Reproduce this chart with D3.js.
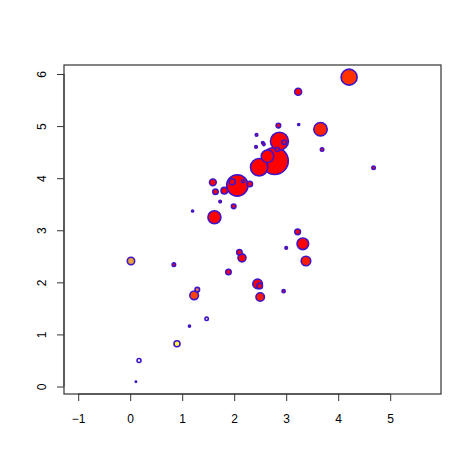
<!DOCTYPE html>
<html lang="en">
<head>
  <meta charset="UTF-8">
  <title>Circle symbols plot</title>
  <style>
    body { margin: 0; background: #fff; }
    svg text { font-family: "Liberation Sans", Arial, sans-serif; font-size: 12px; fill: #000; }
  </style>
</head>
<body>
  <svg id="chart" width="474" height="474"></svg>
  <script src="https://d3js.org/d3.v7.min.js"></script>
  <script>
    // point positions, circle radius (in x units) and fill colour
    const xValues = [4.21, 3.23, 2.85, 3.24, 2.43, 3.66, 2.87, 2.96, 2.42, 2.55, 2.57, 2.83,
      3.69, 2.78, 2.64, 2.48, 4.68, 2.06, 1.96, 2.17, 2.30, 1.59, 1.64, 1.81, 1.73, 1.99,
      1.62, 1.20, 3.22, 3.32, 3.00, 3.38, 2.10, 2.15, 1.89, 2.45, 2.49, 2.50, 2.95, 0.015,
      0.84, 1.23, 1.29, 1.47, 1.14, 0.90, 0.17, 0.11];
    const yValues = [5.94, 5.66, 5.01, 5.03, 4.83, 4.94, 4.71, 4.69, 4.60, 4.68, 4.65, 4.55,
      4.55, 4.33, 4.42, 4.21, 4.20, 3.86, 3.93, 3.94, 3.89, 3.92, 3.74, 3.76, 3.55, 3.46,
      3.25, 3.37, 2.97, 2.74, 2.66, 2.41, 2.58, 2.47, 2.20, 1.97, 1.93, 1.72, 1.83, 2.41,
      2.34, 1.75, 1.86, 1.30, 1.16, 0.82, 0.50, 0.09];
    const sizes = [0.154, 0.067, 0.044, 0.020, 0.025, 0.129, 0.173, 0.044, 0.025, 0.025, 0.025, 0.038,
      0.033, 0.260, 0.120, 0.167, 0.033, 0.205, 0.058, 0.029, 0.052, 0.065, 0.052, 0.063, 0.025, 0.044,
      0.125, 0.020, 0.054, 0.112, 0.025, 0.092, 0.052, 0.077, 0.052, 0.092, 0.054, 0.081, 0.031, 0.071,
      0.033, 0.083, 0.044, 0.033, 0.020, 0.058, 0.038, 0.013];
    const fills = ["#ff3300", "#ff0000", "#ff0000", "#ff0000", "#ff0000", "#ff2200", "#ff0000", "#ff0000",
      "#ff0000", "#ff0000", "#ff0000", "#ff0000", "#ff0000", "#ff0000", "#ff0000", "#ff0000", "#ff0000",
      "#ff0000", "#ff0000", "#ff0000", "#ff0000", "#ff0000", "#ff0000", "#ff0000", "#ff0000", "#ff0000",
      "#ff0000", "#ff0000", "#ff0000", "#ff0000", "#ff0000", "#ff1a00", "#ff0000", "#ff0000", "#ff0000",
      "#ff0000", "#ff0000", "#ff1a00", "#ff0000", "#e8a23a", "#ff0000", "#ff4400", "#ee7755", "#f4f4ff",
      "#ff0000", "#ffff40", "#ffffff", "#ff0000"];
    const xTicks = [-1, 0, 1, 2, 3, 4, 5];
    const yTicks = [0, 1, 2, 3, 4, 5, 6];

    const svg = d3.select("#chart");
    const margin = { top: 65, right: 33, bottom: 80, left: 64 };
    const W = 474, H = 474;

    const x = d3.scaleLinear().domain([-1.273, 5.977]).range([margin.left, W - margin.right]);
    const y = d3.scaleLinear().domain([-0.144, 6.173]).range([H - margin.bottom, margin.top]);

    const points = xValues.map((v, i) => ({ x: v, y: yValues[i], s: sizes[i], fill: fills[i] }))
      .sort((a, b) => b.s - a.s);

    svg.append("g").selectAll("circle")
      .data(points)
      .enter().append("circle")
      .attr("cx", d => x(d.x))
      .attr("cy", d => y(d.y))
      .attr("r", d => x(d.s) - x(0))
      .attr("fill", d => d.fill)
      .attr("stroke", "#4014c8")
      .attr("stroke-width", 1.6);

    // plot box
    svg.append("rect")
      .attr("x", margin.left)
      .attr("y", margin.top)
      .attr("width", W - margin.left - margin.right)
      .attr("height", H - margin.top - margin.bottom)
      .attr("fill", "none")
      .attr("stroke", "#333")
      .attr("stroke-width", 1.2);

    // axes, R style: line from first to last tick, labels below
    const xAxis = svg.append("g")
      .attr("transform", `translate(0,${H - margin.bottom})`)
      .call(d3.axisBottom(x).tickValues(xTicks).tickSize(7).tickPadding(13).tickFormat(d3.format("d")));
    xAxis.select(".domain")
      .attr("d", `M${x(-1)},0H${x(5)}`);

    const yAxis = svg.append("g")
      .attr("transform", `translate(${margin.left},0)`)
      .call(d3.axisLeft(y).tickValues(yTicks).tickSize(7).tickPadding(10).tickFormat(d3.format("d")));
    yAxis.select(".domain")
      .attr("d", `M0,${y(0)}V${y(6)}`);
    yAxis.selectAll(".tick text")
      .attr("x", 0).attr("dy", 0)
      .attr("transform", "translate(-22,0) rotate(-90)")
      .style("text-anchor", "middle")
      .attr("dominant-baseline", "central");

    svg.selectAll(".tick line, .domain").attr("stroke", "#333");
    svg.selectAll(".tick text").style("font-family", "'Liberation Sans', Arial, sans-serif").style("font-size", "12px");
  </script>
</body>
</html>
